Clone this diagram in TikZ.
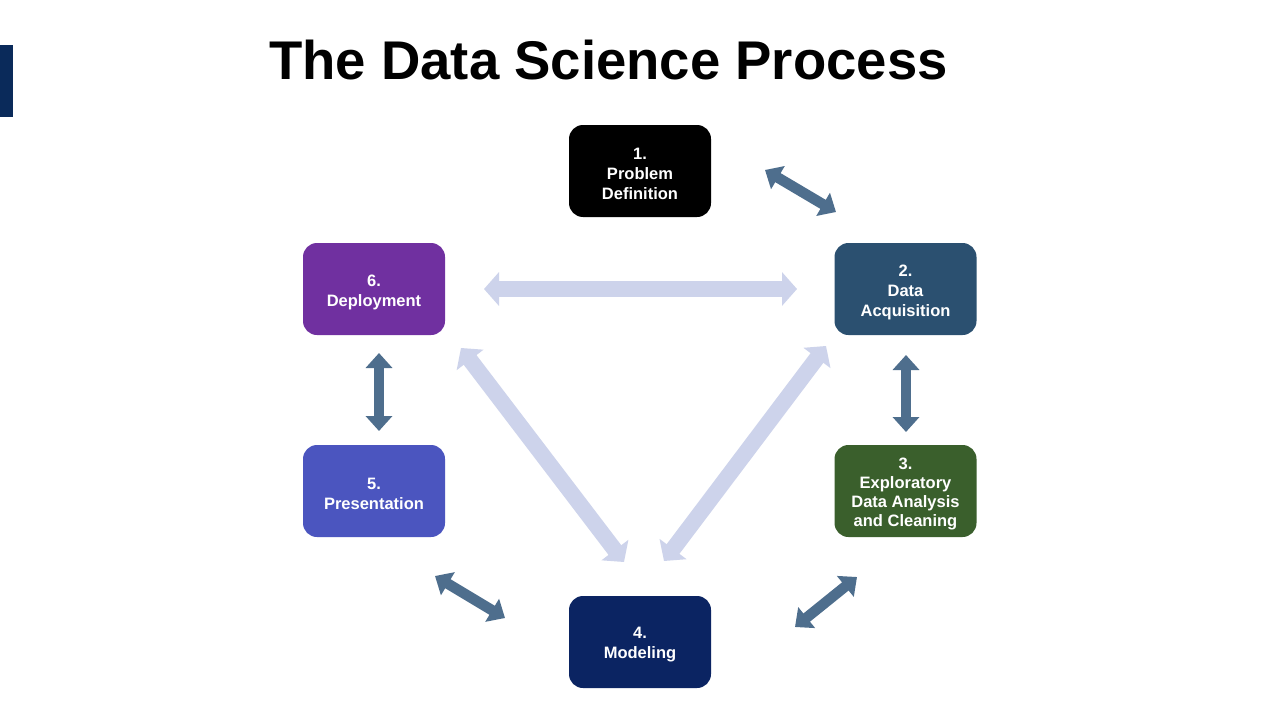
\documentclass[tikz,border=0pt]{standalone}
\usepackage{fontspec}
\setmainfont{Liberation Sans}
\usetikzlibrary{arrows.meta}
\definecolor{barnavy}{HTML}{0A2A5A}
\definecolor{cOne}{HTML}{000000}
\definecolor{cTwo}{HTML}{2B5070}
\definecolor{cThree}{HTML}{3A5F2C}
\definecolor{cFour}{HTML}{0B2462}
\definecolor{cFive}{HTML}{4B55BF}
\definecolor{cSix}{HTML}{7030A0}
\definecolor{darkarr}{HTML}{4E6E8D}
\definecolor{lightarr}{HTML}{CDD3EB}
\tikzset{
  stepbox/.style={rounded corners=14pt, minimum width=142pt, minimum height=92pt,
    inner sep=0pt},
  steptext/.style={inner sep=0pt, text=white, align=center, yshift=-3pt,
    font=\fontsize{16.5pt}{20pt}\selectfont\bfseries},
  darklink/.style={draw=darkarr, line width=10.5pt,
    {Triangle[width=26pt,length=15pt]}-{Triangle[width=26pt,length=15pt]}},
  lightlink/.style={draw=lightarr, line width=16pt,
    {Triangle[width=33pt,length=15pt]}-{Triangle[width=33pt,length=15pt]}}
}
\begin{document}
\begin{tikzpicture}[x=1pt,y=-1pt]
\useasboundingbox (0,0) rectangle (1280,720);
\fill[white] (0,0) rectangle (1280,720);
\fill[barnavy] (0,45) rectangle (13,117);
\node[anchor=base west, inner sep=0pt, font=\fontsize{54.5pt}{60pt}\selectfont\bfseries] (title) at (269,79) {The Data Science Process};

\node[stepbox, fill=cOne] (n1) at (640,171) {};
\node[stepbox, fill=cTwo] (n2) at (905.5,289) {};
\node[stepbox, fill=cThree] (n3) at (905.5,491) {};
\node[stepbox, fill=cFour] (n4) at (640,642) {};
\node[stepbox, fill=cFive] (n5) at (374,491) {};
\node[stepbox, fill=cSix] (n6) at (374,289) {};

\node[steptext] (t1) at (n1.center) {1.\\Problem\\Definition};
\node[steptext] (t2) at (n2.center) {2.\\Data\\Acquisition};
\node[steptext, font=\fontsize{16.5pt}{19pt}\selectfont\bfseries] (t3) at (n3.center) {3.\\Exploratory\\Data Analysis\\and Cleaning};
\node[steptext] (t4) at (n4.center) {4.\\Modeling};
\node[steptext] (t5) at (n5.center) {5.\\Presentation};
\node[steptext] (t6) at (n6.center) {6.\\Deployment};

% arrow end coordinates
\coordinate (a12s) at (765,170);
\coordinate (a12e) at (836,212);
\coordinate (a23s) at (906,355);
\coordinate (a23e) at (906,432);
\coordinate (a65s) at (379,353);
\coordinate (a65e) at (379,431);
\coordinate (a34s) at (857,577);
\coordinate (a34e) at (795,627);
\coordinate (a54s) at (435,576);
\coordinate (a54e) at (505,618);
\coordinate (a62s) at (484,289);
\coordinate (a62e) at (797,289);
\coordinate (a64s) at (461,348);
\coordinate (a64e) at (624,562);
\coordinate (a24s) at (826,346);
\coordinate (a24e) at (664,561);

\draw[lightlink] (a62s) -- (a62e);
\draw[lightlink] (a64s) -- (a64e);
\draw[lightlink] (a24s) -- (a24e);

\draw[darklink] (a12s) -- (a12e);
\draw[darklink] (a23s) -- (a23e);
\draw[darklink] (a65s) -- (a65e);
\draw[darklink] (a34s) -- (a34e);
\draw[darklink] (a54s) -- (a54e);
\end{tikzpicture}
\end{document}
